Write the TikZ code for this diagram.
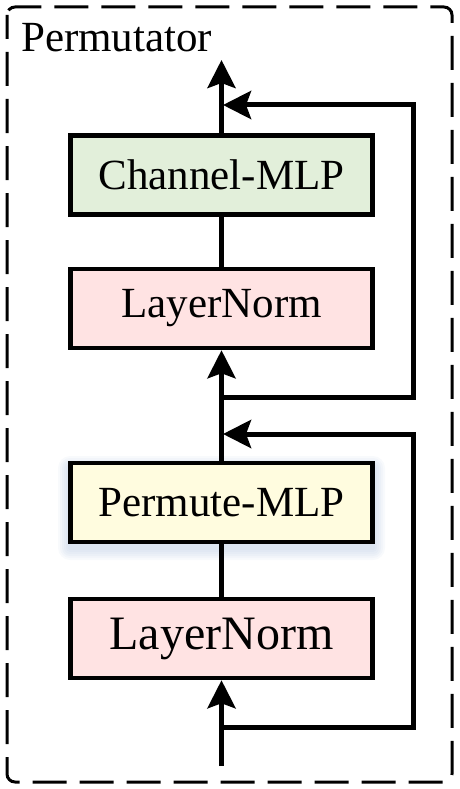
\documentclass[tikz,border=0pt]{standalone}
\usepackage{fontspec}
\setmainfont{Liberation Serif}
\usetikzlibrary{arrows.meta}
\definecolor{cmgreen}{HTML}{E2EFDA}
\definecolor{lnpink}{HTML}{FFE3E3}
\definecolor{pmyellow}{HTML}{FFFCDF}
\definecolor{shadowblue}{HTML}{9DB5D8}
\tikzset{
  blockbox/.style={draw=black, line width=4.5pt, minimum width=302pt, minimum height=79pt, inner sep=0pt, font=\fontsize{43}{48}\selectfont},
  conn/.style={line width=5pt, line join=miter},
  arr/.style={conn, -{Stealth[length=28pt,width=28pt,inset=5pt]}},
  softshadow/.style={fill=shadowblue, draw=none, opacity=0.07},
}
\begin{document}
\begin{tikzpicture}[x=1pt,y=-1pt]
\useasboundingbox (0,0) rectangle (460,789);
% outer dashed frame
\draw[line width=3pt, dash pattern=on 34pt off 13pt, dash phase=10pt, rounded corners=8pt] (7,7) rectangle (452,782);
\node[anchor=base west, inner sep=0pt, font=\fontsize{43}{48}\selectfont] (title) at (21,52) {Permutator};
% soft shadow under Permute-MLP
\foreach \d in {2,4,6,8,10,12}{
  \fill[softshadow, rounded corners=\d pt] (70-\d,468-\d) rectangle (373+\d,548+\d);
}
% blocks
\node[blockbox, fill=cmgreen] (cm) at (221.5,175) {Channel-MLP};
\node[blockbox, fill=lnpink] (ln2) at (221.5,308.5) {LayerNorm};
\node[blockbox, fill=pmyellow] (pm) at (221.5,502.5) {Permute-MLP};
\node[blockbox, fill=lnpink, font=\fontsize{48}{54}\selectfont] (ln1) at (221.5,638.5) {LayerNorm};
% coordinates
\coordinate (in) at (221.5,766);
\coordinate (out) at (221.5,60);
\coordinate (b1) at (221.5,727);
\coordinate (r1a) at (413,727);
\coordinate (r1b) at (413,434);
\coordinate (j1) at (223,434);
\coordinate (b2) at (221.5,397);
\coordinate (r2a) at (413,397);
\coordinate (r2b) at (413,105);
\coordinate (j2) at (223,105);
% main path
\draw[arr] (in) -- (ln1.south);
\draw[conn] (ln1.north) -- (pm.south);
\draw[arr] (pm.north) -- (ln2.south);
\draw[conn] (ln2.north) -- (cm.south);
\draw[arr] (cm.north) -- (out);
% residual connections
\draw[arr] (b1) -- (r1a) -- (r1b) -- (j1);
\draw[arr] (b2) -- (r2a) -- (r2b) -- (j2);
\end{tikzpicture}
\end{document}
